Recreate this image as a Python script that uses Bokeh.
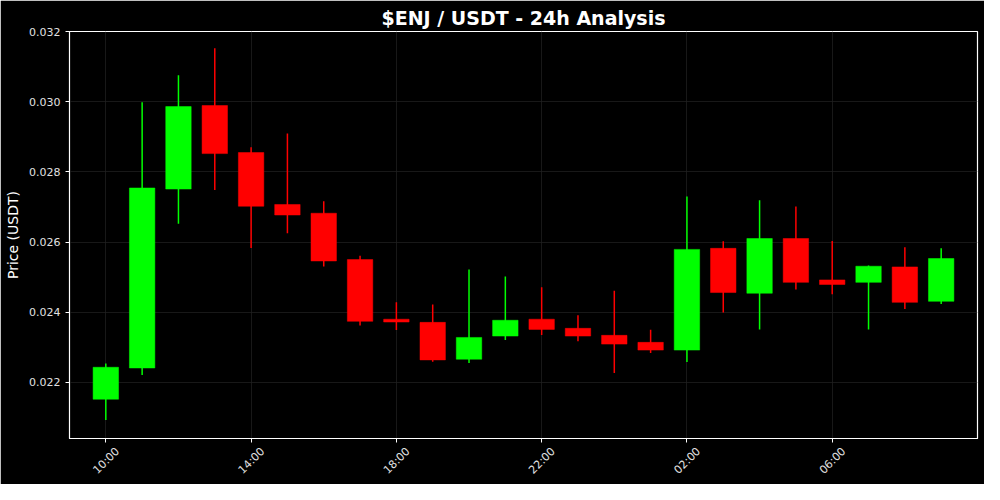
import math
from bokeh.plotting import figure
from bokeh.models import Range1d, FixedTicker, PrintfTickFormatter, LinearAxis
from bokeh.embed import file_html
from bokeh.resources import INLINE

# ---- data ----
times = ["10:00", "11:00", "12:00", "13:00", "14:00", "15:00", "16:00", "17:00",
         "18:00", "19:00", "20:00", "21:00", "22:00", "23:00", "00:00", "01:00",
         "02:00", "03:00", "04:00", "05:00", "06:00", "07:00", "08:00", "09:00"]
opens = [0.02152, 0.02241, 0.02751, 0.02989, 0.02855, 0.02707, 0.02682, 0.02550,
         0.02380, 0.02371, 0.02266, 0.02332, 0.02380, 0.02354, 0.02334, 0.02314,
         0.02292, 0.02582, 0.02454, 0.02610, 0.02492, 0.02485, 0.02529, 0.02431]
closes = [0.02243, 0.02754, 0.02986, 0.02852, 0.02702, 0.02677, 0.02546, 0.02374,
          0.02372, 0.02264, 0.02328, 0.02377, 0.02351, 0.02332, 0.02309, 0.02292,
          0.02579, 0.02456, 0.02610, 0.02485, 0.02479, 0.02531, 0.02428, 0.02553]
highs = [0.02254, 0.02998, 0.03075, 0.03152, 0.02870, 0.02909, 0.02716, 0.02561,
         0.02428, 0.02422, 0.02522, 0.02502, 0.02471, 0.02391, 0.02461, 0.02350,
         0.02730, 0.02602, 0.02719, 0.02701, 0.02603, 0.02533, 0.02585, 0.02582]
lows = [0.02093, 0.02221, 0.02652, 0.02748, 0.02583, 0.02625, 0.02530, 0.02362,
        0.02349, 0.02259, 0.02255, 0.02321, 0.02335, 0.02317, 0.02227, 0.02284,
        0.02258, 0.02399, 0.02351, 0.02465, 0.02451, 0.02351, 0.02409, 0.02423]
y_ticks = [0.022, 0.024, 0.026, 0.028, 0.030, 0.032]
y_min, y_max = 0.0204, 0.0320

UP = "#00ff00"
DOWN = "#ff0000"
FONT = "DejaVu Sans"

xs = list(range(len(times)))
tops = [max(o, c) for o, c in zip(opens, closes)]
bots = [min(o, c) for o, c in zip(opens, closes)]
cols = [UP if c >= o else DOWN for o, c in zip(opens, closes)]

x_lo, x_hi = -1, len(times)
p = figure(width=984, height=484, output_backend="svg", toolbar_location=None,
           x_range=Range1d(x_lo, x_hi), y_range=Range1d(y_min, y_max),
           x_axis_location=None,
           min_border_left=69, min_border_right=7, min_border_top=31,
           min_border_bottom=46)

p.background_fill_color = "black"
p.border_fill_color = "black"
p.outline_line_color = "white"
p.outline_line_width = 1.2

p.title.text = "$ENJ / USDT - 24h Analysis"
p.title.align = "center"
p.title.text_color = "white"
p.title.text_font = FONT
p.title.text_font_size = "19px"
p.title.text_font_style = "bold"
p.title.standoff = 6
p.title.offset = 0

p.segment(x0=xs, y0=lows, x1=xs, y1=highs, line_color=cols, line_width=1.5)
p.vbar(x=xs, width=0.7, top=tops, bottom=bots, fill_color=cols, line_color=cols,
       line_width=0.5)

tick_idx = xs[::4]

# y axis
p.yaxis.ticker = FixedTicker(ticks=y_ticks)
p.yaxis.formatter = PrintfTickFormatter(format="%.3f")
p.yaxis.axis_label = "Price (USDT)"
p.yaxis.axis_line_color = "white"
p.yaxis.major_tick_line_color = "white"
p.yaxis.minor_tick_line_color = None
p.yaxis.major_tick_out = 4
p.yaxis.major_tick_in = 0
p.yaxis.major_label_text_color = "#e0e0e0"
p.yaxis.major_label_text_font = FONT
p.yaxis.major_label_text_font_size = "11px"
p.yaxis.axis_label_text_color = "white"
p.yaxis.axis_label_text_font = FONT
p.yaxis.axis_label_text_font_size = "14px"
p.yaxis.axis_label_text_font_style = "normal"

# x axis on a slightly shifted range so the rotated labels sit centred under
# their ticks (matplotlib style); the tick marks are drawn as minor ticks at
# the true positions.
shift = 0.32
p.extra_x_ranges = {"lbl": Range1d(x_lo - shift, x_hi - shift)}
x_axis = LinearAxis(x_range_name="lbl",
                    ticker=FixedTicker(ticks=tick_idx,
                                       minor_ticks=[i - shift for i in tick_idx]),
                    major_label_overrides={i: times[i] for i in tick_idx},
                    major_label_orientation=math.pi / 4,
                    axis_line_color="white",
                    major_tick_line_color=None, major_tick_out=0, major_tick_in=0,
                    minor_tick_line_color="white", minor_tick_out=4,
                    minor_tick_in=0, minor_tick_line_width=1,
                    major_label_standoff=7,
                    major_label_text_color="#e0e0e0",
                    major_label_text_font=FONT,
                    major_label_text_font_size="11px")
p.add_layout(x_axis, "below")

p.xgrid.ticker = FixedTicker(ticks=tick_idx)
p.grid.grid_line_color = "#222222"
p.grid.grid_line_alpha = 0.9
p.grid.grid_line_width = 0.8

open("out.html", "w").write(file_html(p, INLINE))
